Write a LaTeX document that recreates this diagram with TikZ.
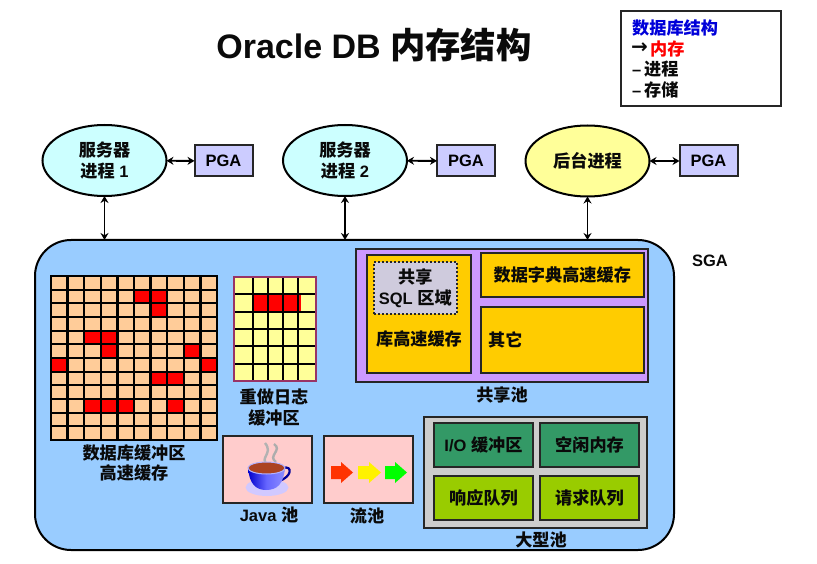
\documentclass[tikz,border=0pt]{standalone}
\usepackage{fontspec}
\setmainfont{Liberation Sans}
\newfontfamily\zhfont[Scale=1.04]{Noto Sans CJK SC}
\newfontfamily\symfont{DejaVu Sans}
\newcommand{\zh}[1]{{\zhfont #1}}
\usetikzlibrary{shapes.geometric,arrows.meta}
\definecolor{sgablue}{HTML}{99CCFF}
\definecolor{peach}{HTML}{FFCC99}
\definecolor{paleyellow}{HTML}{FFFF99}
\definecolor{palecyan}{HTML}{CCFFFF}
\definecolor{lavender}{HTML}{CCCCFF}
\definecolor{pink}{HTML}{FFCCCC}
\definecolor{violet2}{HTML}{CC99FF}
\definecolor{amber}{HTML}{FFCC00}
\definecolor{seagreen}{HTML}{339966}
\definecolor{lime2}{HTML}{99CC00}
\definecolor{maroon2}{HTML}{993366}
\definecolor{sqlgrey}{HTML}{CFCBDD}
\definecolor{inktext}{HTML}{0A0A0A}
\tikzset{
  x=1pt,y=-1pt,
  lbl/.style={inner sep=0pt,align=center,text=inktext,font=\bfseries\fontsize{16.5}{20.5}\selectfont},
  wire/.style={line width=1.9pt,{Stealth[length=7pt,width=8pt]}-{Stealth[length=7pt,width=8pt]}},
  proc/.style={ellipse,draw=black,line width=2pt,minimum width=124pt,minimum height=71pt,inner sep=0pt,outer sep=0pt},
  pga/.style={rectangle,draw=black!85,line width=2pt,fill=lavender,minimum width=58pt,minimum height=31pt,inner sep=0pt,outer sep=0pt,font=\bfseries\fontsize{16.5}{20}\selectfont},
  blk/.style={rectangle,draw=black!85,line width=2pt,inner sep=0pt,outer sep=0pt,align=center,text=inktext,font=\bfseries\fontsize{16.5}{20.5}\selectfont},
  gridline/.style={draw=black,line width=2.3pt},
}
\begin{document}
\begin{tikzpicture}
\useasboundingbox (0,0) rectangle (817,564);
% title
\node[lbl,font=\bfseries\fontsize{34}{38}\selectfont] (title) at (374,45) {Oracle DB \zh{内存结构}};
% legend
\node[blk,fill=white,minimum width=160pt,minimum height=95pt] (legend) at (701,58.5) {};
\node[lbl,anchor=west,text=blue!85!black] (lg1) at (632,28) {\zh{数据库结构}};
\node[lbl,anchor=west,font=\bfseries\fontsize{20}{20}\selectfont] (lg2a) at (631,48) {\symfont →};
\node[lbl,anchor=west,text=red] (lg2) at (650,49) {\zh{内存}};
\node[lbl,anchor=west] (lg3) at (632,69) {–\,\zh{进程}};
\node[lbl,anchor=west] (lg4) at (632,90) {–\,\zh{存储}};
% SGA
\node[rectangle,rounded corners=36pt,draw=black,line width=2pt,fill=sgablue,minimum width=639pt,minimum height=310pt,inner sep=0pt,outer sep=0pt] (sga) at (354.5,395) {};
\node[lbl] (sgat) at (710,261) {SGA};
% processes
\node[proc,fill=palecyan,lbl] (e1) at (104.5,160.5) {\zh{服务器}\\\zh{进程} 1};
\node[proc,fill=palecyan,lbl] (e2) at (345,160.5) {\zh{服务器}\\\zh{进程} 2};
\node[proc,fill=paleyellow,lbl] (e3) at (587.5,161) {\zh{后台进程}};
\node[pga] (p1) at (223.5,161) {PGA};
\node[pga] (p2) at (466,161) {PGA};
\node[pga] (p3) at (708.5,161) {PGA};
\draw[wire] (e1) -- (p1);
\draw[wire] (e2) -- (p2);
\draw[wire] (e3) -- (p3);
\draw[wire] (e1.south) -- (e1.south |- sga.north);
\draw[wire] (e2.south) -- (e2.south |- sga.north);
\draw[wire] (e3.south) -- (e3.south |- sga.north);
% database buffer cache
\fill[peach] (51,276) rectangle (217,440);
\foreach \c/\r in {5/1,6/1,6/2,2/4,3/4,3/5,8/5,0/6,9/6,6/7,7/7,2/9,3/9,4/9,7/9}
  \fill[red] ({51+\c*16.6},{276+\r*13.667}) rectangle ({51+(\c+1)*16.6},{276+(\r+1)*13.667});
\foreach \i in {1,...,9} \draw[gridline] ({51+\i*16.6},276) -- ({51+\i*16.6},440);
\foreach \i in {1,...,11} \draw[gridline] (51,{276+\i*13.667}) -- (217,{276+\i*13.667});
\draw[black,line width=2.8pt] (51,276) rectangle (217,440);
\node[lbl] (bufl) at (134,463) {\zh{数据库缓冲区}\\\zh{高速缓存}};
% redo log buffer
\fill[paleyellow] (234,277) rectangle (316,381);
\foreach \c/\r in {1/1,2/1,3/1}
  \fill[red] ({234+\c*16.0+2.5},{277+\r*17.33}) rectangle ({234+(\c+1)*16.0+2.5},{277+(\r+1)*17.33});
\foreach \x in {252.7,268,283,298} \draw[gridline,line width=2pt] (\x,277) -- (\x,381);
\foreach \i in {1,...,5} \draw[gridline,line width=2pt] (234,{277+\i*17.33}) -- (316,{277+\i*17.33});
\draw[maroon2,line width=2pt] (234,277) rectangle (316,381);
\node[lbl] (redol) at (274,407.5) {\zh{重做日志}\\\zh{缓冲区}};
% java pool
\node[blk,fill=pink,minimum width=89pt,minimum height=67pt,line width=2.4pt] (java) at (267.2,469.5) {};
\node[lbl] (javal) at (269,515) {Java \zh{池}};
\draw[black!30,line width=2.4pt] (268,465) .. controls (258,458) and (274,454) .. (265,443);
\draw[black!32,line width=2.4pt] (276,462) .. controls (267,456) and (283,450) .. (274,444);
\fill[violet2!50!blue!30!white] (267,487.5) ellipse [x radius=21.5, y radius=8.5];
\draw[blue!60!black,line width=2.2pt] (283,468) .. controls (293,465) and (292,477) .. (279,481);
\shade[left color=blue!80!black,right color=blue!45!white,middle color=blue!60]
  (248,467) .. controls (249,484) and (256,490) .. (266,490) .. controls (277,490) and (284,484) .. (285,467) -- cycle;
\fill[brown!65!red!80!black,draw=white!70!blue,line width=1pt] (266.5,468) ellipse [x radius=18.5, y radius=6];
% streams pool
\node[blk,fill=pink,minimum width=89pt,minimum height=67pt,line width=2.4pt] (stream) at (368.5,469.5) {};
\node[lbl] (streaml) at (367,516) {\zh{流池}};
\fill[red!80!yellow] (331,466) -- (341,466) -- (341,462) -- (353,472.5) -- (341,483) -- (341,479) -- (331,479) -- cycle;
\fill[yellow] (358,466) -- (369,466) -- (369,462) -- (381,472.5) -- (369,483) -- (369,479) -- (358,479) -- cycle;
\fill[green] (385,466) -- (395,466) -- (395,462) -- (407,472.5) -- (395,483) -- (395,479) -- (385,479) -- cycle;
% shared pool
\node[blk,fill=violet2,minimum width=292pt,minimum height=133pt] (shared) at (502,315.5) {};
\node[blk,fill=amber,minimum width=104pt,minimum height=118pt] (lib) at (418.7,314) {};
\node[rectangle,draw=black!85,dotted,line width=2pt,fill=sqlgrey,minimum width=83pt,minimum height=52pt,inner sep=0pt,outer sep=0pt,lbl] (sql) at (415.3,288) {\zh{共享}\\SQL \zh{区域}};
\node[lbl] (libl) at (419,339) {\zh{库高速缓存}};
\node[blk,fill=amber,minimum width=163pt,minimum height=44pt] (dict) at (562.3,275) {\zh{数据字典高速缓存}};
\node[blk,fill=amber,minimum width=163pt,minimum height=66pt] (other) at (562.3,340) {};
\node[lbl,anchor=west] (otherl) at (488,340) {\zh{其它}};
\node[lbl] (sharedl) at (502,395) {\zh{共享池}};
% large pool
\node[blk,fill=black!20,minimum width=223pt,minimum height=111pt] (large) at (535.5,472.5) {};
\node[blk,fill=seagreen,minimum width=99pt,minimum height=44pt] (io) at (483.5,445) {I/O \zh{缓冲区}};
\node[blk,fill=seagreen,minimum width=99pt,minimum height=44pt] (free) at (589.5,445) {\zh{空闲内存}};
\node[blk,fill=lime2,minimum width=99pt,minimum height=44pt] (resp) at (483.5,498) {\zh{响应队列}};
\node[blk,fill=lime2,minimum width=99pt,minimum height=44pt] (req) at (589.5,498) {\zh{请求队列}};
\node[lbl] (largel) at (541,540) {\zh{大型池}};
\end{tikzpicture}
\end{document}
